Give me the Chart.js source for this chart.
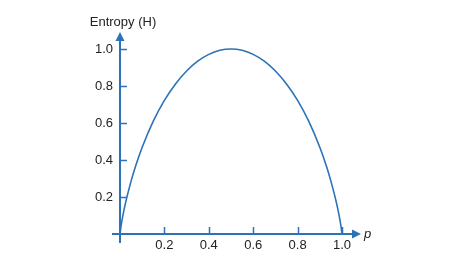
<!DOCTYPE html>
<html>
<head>
<meta charset="utf-8">
<script src="https://cdn.jsdelivr.net/npm/chart.js@4"></script>
<style>
  html, body { margin: 0; padding: 0; background: #fff; }
  #wrap { width: 474px; height: 266px; }
</style>
</head>
<body>
<div id="wrap"><canvas id="myChart"></canvas></div>
<script>
// values
var pValues = [0, 0.005, 0.01, 0.02, 0.03, 0.05, 0.07, 0.1, 0.15, 0.2, 0.25, 0.3, 0.35, 0.4, 0.45, 0.5,
               0.55, 0.6, 0.65, 0.7, 0.75, 0.8, 0.85, 0.9, 0.93, 0.95, 0.97, 0.98, 0.99, 0.995, 1];
var hValues = [0, 0.045, 0.081, 0.141, 0.194, 0.286, 0.366, 0.469, 0.610, 0.722, 0.811, 0.881, 0.934, 0.971, 0.993, 1.0,
               0.993, 0.971, 0.934, 0.881, 0.811, 0.722, 0.610, 0.469, 0.366, 0.286, 0.194, 0.141, 0.081, 0.045, 0];
var xTicks = [0.2, 0.4, 0.6, 0.8, 1.0];
var yTicks = [0.2, 0.4, 0.6, 0.8, 1.0];
var yTitle = 'Entropy (H)';
var xTitle = 'p';

var blue = 'rgb(44, 114, 184)';
var textColor = '#222';

const ctx = document.getElementById('myChart');

// axes, arrows, ticks and labels
const axesPlugin = {
  id: 'axesPlugin',
  afterDatasetsDraw(chart) {
    var c = chart.ctx;
    var xs = chart.scales.x, ys = chart.scales.y;
    var x0 = xs.getPixelForValue(0), y0 = ys.getPixelForValue(0);
    var left = xs.left, right = xs.right, top = ys.top, bottom = ys.bottom;
    c.save();
    c.strokeStyle = blue;
    c.fillStyle = blue;
    c.lineWidth = 2;
    c.beginPath();
    c.moveTo(left, y0); c.lineTo(right - 7, y0);
    c.moveTo(x0, bottom); c.lineTo(x0, top + 7);
    c.stroke();
    // arrow heads
    c.beginPath();
    c.moveTo(right, y0); c.lineTo(right - 9, y0 - 4.5); c.lineTo(right - 9, y0 + 4.5); c.closePath();
    c.fill();
    c.beginPath();
    c.moveTo(x0, top); c.lineTo(x0 - 4.5, top + 9); c.lineTo(x0 + 4.5, top + 9); c.closePath();
    c.fill();
    // tick marks
    c.lineWidth = 1.5;
    c.beginPath();
    xTicks.forEach(function (v) {
      var px = Math.round(xs.getPixelForValue(v)) + 0.5;
      c.moveTo(px, y0); c.lineTo(px, y0 - 7);
    });
    yTicks.forEach(function (v) {
      var py = Math.round(ys.getPixelForValue(v)) + 0.5;
      c.moveTo(x0, py); c.lineTo(x0 + 7, py);
    });
    c.stroke();
    // labels
    c.fillStyle = textColor;
    c.font = '13px "Liberation Sans", Arial, sans-serif';
    c.textBaseline = 'middle';
    c.textAlign = 'center';
    xTicks.forEach(function (v) {
      c.fillText(v.toFixed(1), xs.getPixelForValue(v), y0 + 11);
    });
    c.textAlign = 'right';
    yTicks.forEach(function (v) {
      c.fillText(v.toFixed(1), x0 - 7, ys.getPixelForValue(v));
    });
    c.textAlign = 'center';
    c.fillText(yTitle, x0 + 3, top - 10);
    c.font = 'italic 13px "Liberation Sans", Arial, sans-serif';
    c.textAlign = 'left';
    c.fillText(xTitle, right + 3, y0);
    c.restore();
  }
};

const data = {
  datasets: [{
    label: 'H',
    data: pValues.map(function (p, i) { return { x: p, y: hValues[i] }; }),
    borderColor: blue,
    borderWidth: 1.6,
    pointRadius: 0,
    fill: false,
    cubicInterpolationMode: 'monotone'
  }]
};

const config = {
  type: 'line',
  data: data,
  options: {
    responsive: true,
    maintainAspectRatio: false,
    animation: false,
    layout: { padding: { left: 112, right: 113, top: 32, bottom: 23 } },
    plugins: { legend: { display: false }, tooltip: { enabled: false } },
    scales: {
      x: { type: 'linear', min: -0.036, max: 1.0856, display: false },
      y: { type: 'linear', min: -0.0486, max: 1.092, display: false }
    }
  },
  plugins: [axesPlugin]
};

var chart = new Chart(ctx, config);
</script>
</body>
</html>
